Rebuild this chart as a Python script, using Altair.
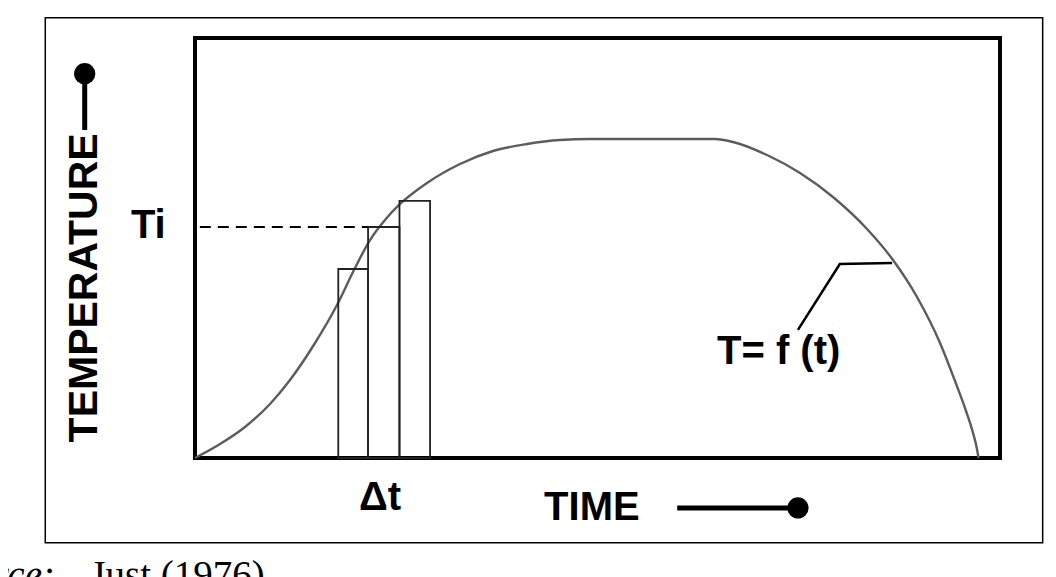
import altair as alt
import pandas as pd

# --- data (time / temperature in arbitrary units 0-100) ---
curve_t = [0, 3.11, 6.21, 9.32, 11.80, 14.91, 17.64, 19.75, 21.74, 23.60, 25.47, 28.82,
           32.92, 37.02, 41.24, 45.34, 49.07, 64.60, 66.83, 71.06, 75.16, 79.25, 83.48,
           86.71, 89.69, 92.55, 94.41, 95.78, 96.65, 97.14, 97.33]
curve_T = [0, 3.33, 7.38, 12.86, 18.57, 27.38, 36.43, 44.76, 51.90, 56.67, 60.48, 65.48,
           70.00, 73.10, 74.76, 75.71, 75.95, 75.95, 75.24, 72.14, 67.86, 62.14, 54.52,
           47.14, 38.33, 27.38, 18.33, 11.19, 5.95, 2.14, 0]

bar_t0 = [17.8, 21.5, 25.4]
bar_t1 = [21.5, 25.4, 29.2]
bar_T = [45.0, 55.0, 61.2]

Ti = 55.0
ti_end = 21.5

leader_t = [74.9, 80.1, 86.6]
leader_T = [30.5, 46.2, 46.4]

label_text = ["Ti", "\u0394t", "TIME", "T= f (t)"]
label_t = [-5.8, 23.0, 49.3, 72.5]
label_T = [55.2, -9.5, -11.9, 25.2]

x_scale = alt.Scale(domain=[0, 100], nice=False, zero=False)
y_scale = alt.Scale(domain=[0, 100], nice=False, zero=False)
X = lambda f: alt.X(f, type="quantitative", scale=x_scale, axis=None)
Y = lambda f: alt.Y(f, type="quantitative", scale=y_scale, axis=None)

frame = alt.Chart(pd.DataFrame({"x": [-18.6], "x2": [105.3], "y": [104.8], "y2": [-20.2]})).mark_rect(
    fill="white", fillOpacity=0, stroke="black", strokeWidth=1.5
).encode(x=X("x"), x2="x2", y=Y("y"), y2="y2")

curve = alt.Chart(pd.DataFrame({"t": curve_t, "T": curve_T, "o": list(range(len(curve_t)))})).mark_line(
    color="#5c5c5c", strokeWidth=2.4, interpolate="monotone"
).encode(x=X("t"), y=Y("T"), order="o:Q")

bars = alt.Chart(pd.DataFrame({"t0": bar_t0, "t1": bar_t1, "T": bar_T, "b": [0, 0, 0]})).mark_rect(
    fillOpacity=0, fill="white", stroke="#222", strokeWidth=1.8
).encode(x=X("t0"), x2="t1", y=Y("T"), y2="b")

dashed = alt.Chart(pd.DataFrame({"a": [0.6], "b": [ti_end], "T": [Ti]})).mark_rule(
    color="black", strokeWidth=2, strokeDash=[11, 7]
).encode(x=X("a"), x2="b", y=Y("T"))

leader = alt.Chart(pd.DataFrame({"t": leader_t, "T": leader_T, "o": [0, 1, 2]})).mark_line(
    color="black", strokeWidth=2.5
).encode(x=X("t"), y=Y("T"), order="o:Q")

labels = alt.Chart(pd.DataFrame({"t": label_t, "T": label_T, "s": label_text})).mark_text(
    font="Liberation Sans", fontWeight="bold", fontSize=40, align="center", baseline="middle", color="black"
).encode(x=X("t"), y=Y("T"), text="s:N")

temp_label = alt.Chart(pd.DataFrame({"t": [-13.7], "T": [40.5], "s": ["TEMPERATURE"]})).mark_text(
    font="Liberation Sans", fontWeight="bold", fontSize=41, align="center", baseline="middle",
    angle=270, color="black"
).encode(x=X("t"), y=Y("T"), text="s:N")

time_arrow = alt.Chart(pd.DataFrame({"a": [59.9], "b": [74.0], "T": [-11.9]})).mark_rule(
    color="black", strokeWidth=5
).encode(x=X("a"), x2="b", y=Y("T"))
time_dot = alt.Chart(pd.DataFrame({"t": [74.9], "T": [-11.9]})).mark_point(
    shape="circle", filled=True, color="black", size=450, opacity=1
).encode(x=X("t"), y=Y("T"))

temp_arrow = alt.Chart(pd.DataFrame({"t": [-13.7], "a": [78.1], "b": [89.5]})).mark_rule(
    color="black", strokeWidth=5
).encode(x=X("t"), y=Y("a"), y2="b")
temp_dot = alt.Chart(pd.DataFrame({"t": [-13.7], "T": [91.5]})).mark_point(
    shape="circle", filled=True, color="black", size=450, opacity=1
).encode(x=X("t"), y=Y("T"))

src_a = alt.Chart(pd.DataFrame({"t": [-17.4], "T": [-31.0], "s": ["Source:"]})).mark_text(
    font="Liberation Serif", fontStyle="italic", fontSize=39, align="right", baseline="alphabetic", color="black"
).encode(x=X("t"), y=Y("T"), text="s:N")
src_b = alt.Chart(pd.DataFrame({"t": [-13.0], "T": [-31.0], "s": ["Just (1976)"]})).mark_text(
    font="Liberation Serif", fontSize=39, align="left", baseline="alphabetic", color="black"
).encode(x=X("t"), y=Y("T"), text="s:N")

chart = alt.layer(
    frame, curve, bars, dashed, leader, labels, temp_label, time_arrow, time_dot,
    temp_arrow, temp_dot, src_a, src_b
).properties(
    width=805, height=420,
    autosize=alt.AutoSizeParams(type="none"),
    padding={"left": 187, "top": 30, "right": 48, "bottom": 135},
).configure_view(stroke="black", strokeWidth=4)

chart.save("out.html", embed_options={"renderer": "svg", "actions": False})
